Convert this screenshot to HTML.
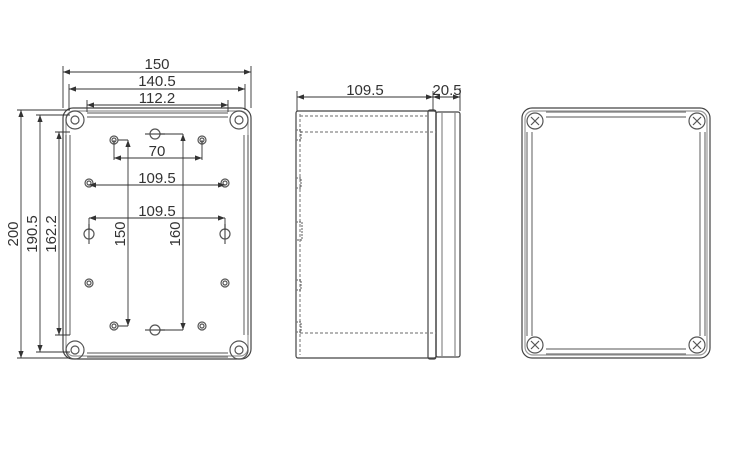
<!DOCTYPE html>
<html><head><meta charset="utf-8"><style>html,body{margin:0;padding:0;background:#fff}svg{display:block}text{font-family:"Liberation Sans Narrow","Liberation Sans",sans-serif;font-size:15px;fill:#333}</style></head><body>
<svg width="750" height="469" viewBox="0 0 750 469" xmlns="http://www.w3.org/2000/svg">
<defs><marker id="a" markerWidth="8" markerHeight="6" refX="8" refY="3" orient="auto-start-reverse"><path d="M0,0 L8,3 L0,6z" fill="#333"/></marker></defs>
<g stroke="#444" fill="none" stroke-width="1.2">
<rect x="63" y="108" width="188" height="251" rx="10"/>
<rect x="66" y="111" width="182" height="245" rx="8" stroke="#999"/>
<path d="M87,113 H228 M87,117 H228 M87,353 H228 M87,357 H228 M66,135 V335 M70,135 V335 M244,135 V335 M248,135 V335" stroke="#777"/>
<g stroke="#555">
<circle cx="75" cy="120" r="9"/><circle cx="75" cy="120" r="4"/>
<circle cx="239" cy="120" r="9"/><circle cx="239" cy="120" r="4"/>
<circle cx="75" cy="350" r="9"/><circle cx="75" cy="350" r="4"/>
<circle cx="239" cy="350" r="9"/><circle cx="239" cy="350" r="4"/>
<circle cx="114" cy="140" r="4"/><circle cx="114" cy="140" r="2"/>
<circle cx="202" cy="140" r="4"/><circle cx="202" cy="140" r="2"/>
<circle cx="89" cy="183" r="4"/><circle cx="89" cy="183" r="2"/>
<circle cx="225" cy="183" r="4"/><circle cx="225" cy="183" r="2"/>
<circle cx="89" cy="283" r="4"/><circle cx="89" cy="283" r="2"/>
<circle cx="225" cy="283" r="4"/><circle cx="225" cy="283" r="2"/>
<circle cx="114" cy="326" r="4"/><circle cx="114" cy="326" r="2"/>
<circle cx="202" cy="326" r="4"/><circle cx="202" cy="326" r="2"/>
<circle cx="155" cy="134" r="5"/><path d="M145,134 H165"/>
<circle cx="155" cy="330" r="5"/><path d="M145,330 H165"/>
<circle cx="89" cy="234" r="5"/><path d="M89,224 V244"/>
<circle cx="225" cy="234" r="5"/><path d="M225,224 V244"/>
</g>
<g stroke="#333" stroke-width="0.9">
<path d="M63,108 V66 M251,108 V66 M69,110 V84 M245,110 V84 M87,112 V100 M228,112 V100"/>
<line x1="63" y1="72" x2="251" y2="72" marker-start="url(#a)" marker-end="url(#a)"/>
<line x1="69" y1="89" x2="245" y2="89" marker-start="url(#a)" marker-end="url(#a)"/>
<line x1="87" y1="105" x2="228" y2="105" marker-start="url(#a)" marker-end="url(#a)"/>
<path d="M17,110 H70 M36,115 H70 M55,132 H70 M17,358 H70 M36,352 H70 M55,335 H70"/>
<line x1="21" y1="110" x2="21" y2="358" marker-start="url(#a)" marker-end="url(#a)"/>
<line x1="40" y1="115" x2="40" y2="352" marker-start="url(#a)" marker-end="url(#a)"/>
<line x1="59" y1="132" x2="59" y2="335" marker-start="url(#a)" marker-end="url(#a)"/>
<path d="M114,140 V160 M202,140 V160 M89,218 V230 M225,218 V230 M118,140 H128 M118,326 H128 M160,134 H183 M160,330 H183"/>
<line x1="114" y1="158" x2="202" y2="158" marker-start="url(#a)" marker-end="url(#a)"/>
<line x1="89" y1="185" x2="225" y2="185" marker-start="url(#a)" marker-end="url(#a)"/>
<line x1="89" y1="218" x2="225" y2="218" marker-start="url(#a)" marker-end="url(#a)"/>
<line x1="128" y1="140" x2="128" y2="326" marker-start="url(#a)" marker-end="url(#a)"/>
<line x1="183" y1="134" x2="183" y2="330" marker-start="url(#a)" marker-end="url(#a)"/>
</g>
<rect x="296" y="111" width="140" height="247" rx="2"/>
<rect x="428" y="110" width="8" height="249" rx="2"/>
<rect x="436" y="112" width="24" height="245" rx="2"/>
<path d="M442,112 V357 M455,112 V357" stroke="#888"/>
<path d="M300,114 V355 M300,132 H436 M300,333 H436 M300,116 H428" stroke="#888" stroke-dasharray="3,2"/>
<path d="M296,130 h5 v10 h-5 M296,178 h5 v10 h-5 M296,222 h6 v18 h-6 M296,280 h5 v10 h-5 M296,322 h5 v10 h-5" stroke="#777" stroke-dasharray="2,1"/>
<g stroke="#333" stroke-width="0.9">
<path d="M297,111 V91 M433,110 V91 M460,111 V88"/>
<line x1="297" y1="97" x2="433" y2="97" marker-start="url(#a)" marker-end="url(#a)"/>
<line x1="433" y1="97" x2="460" y2="97" marker-start="url(#a)" marker-end="url(#a)"/>
</g>
<rect x="522" y="108" width="188" height="250" rx="10"/>
<rect x="525" y="111" width="182" height="244" rx="8" stroke="#999"/>
<path d="M546,112 H686 M546,117 H686 M546,349 H686 M546,354 H686 M527,132 V336 M532,132 V336 M700,132 V336 M705,132 V336" stroke="#777"/>
<g stroke="#555">
<circle cx="535" cy="121" r="8"/><path d="M531,117 l8,8 m0,-8 l-8,8"/>
<circle cx="697" cy="121" r="8"/><path d="M693,117 l8,8 m0,-8 l-8,8"/>
<circle cx="535" cy="345" r="8"/><path d="M531,341 l8,8 m0,-8 l-8,8"/>
<circle cx="697" cy="345" r="8"/><path d="M693,341 l8,8 m0,-8 l-8,8"/>
</g>
</g>
<text x="157" y="69" text-anchor="middle">150</text>
<text x="157" y="86" text-anchor="middle">140.5</text>
<text x="157" y="103" text-anchor="middle">112.2</text>
<text x="157" y="156" text-anchor="middle">70</text>
<text x="157" y="183" text-anchor="middle">109.5</text>
<text x="157" y="216" text-anchor="middle">109.5</text>
<text x="365" y="95" text-anchor="middle">109.5</text>
<text x="447" y="95" text-anchor="middle">20.5</text>
<text transform="translate(18,234) rotate(-90)" text-anchor="middle">200</text>
<text transform="translate(37,234) rotate(-90)" text-anchor="middle">190.5</text>
<text transform="translate(56,234) rotate(-90)" text-anchor="middle">162.2</text>
<text transform="translate(125,234) rotate(-90)" text-anchor="middle">150</text>
<text transform="translate(180,234) rotate(-90)" text-anchor="middle">160</text>
</svg>
</body></html>
